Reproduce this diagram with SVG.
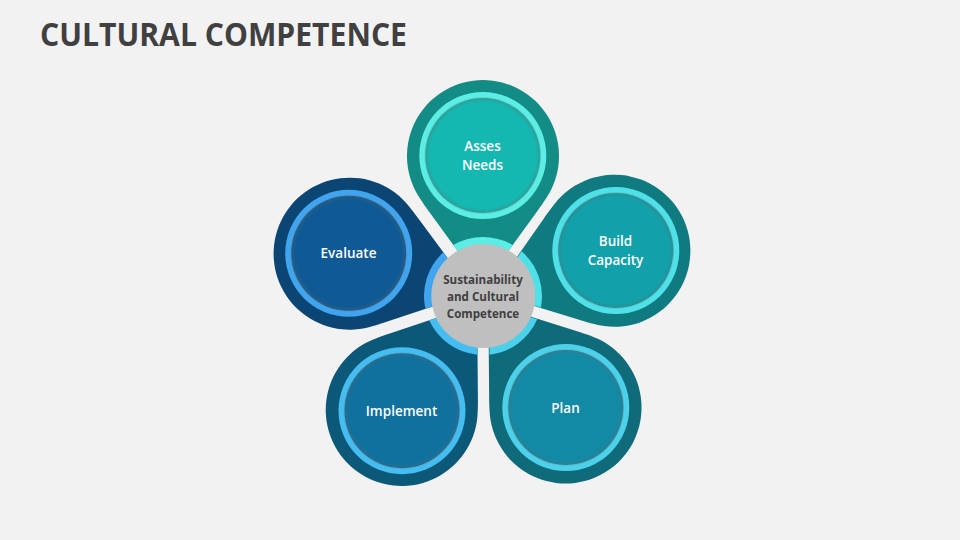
<svg xmlns="http://www.w3.org/2000/svg" width="960" height="540" viewBox="0 0 960 540">
<style>
.title{font:700 33px "Open Sans",sans-serif;fill:#404040}
.lbl{font:600 13.5px "Open Sans",sans-serif;fill:#fff;text-anchor:middle}
.ctr{font:700 11.6px "Open Sans",sans-serif;fill:#404040;text-anchor:middle}
</style>
<defs>
<path id="petal" d="M0,-10.2 L-52.77,-82.8 C-57.5,-89.3 -64.4,-98.8 -68,-106 A76 76 0 1 1 68,-106 C64.4,-98.8 57.5,-89.3 52.77,-82.8 Z"/>
<path id="seg" d="M0,-10.2 L-29.67,-51 A59 59 0 0 1 29.67,-51 Z"/>
<radialGradient id="sh"><stop offset="0.9" stop-color="#666" stop-opacity="0"/><stop offset="0.97" stop-color="#666" stop-opacity="0.28"/><stop offset="1" stop-color="#666" stop-opacity="0"/></radialGradient>
</defs>
<rect width="960" height="540" fill="#f2f2f2"/>
<text class="title" x="40" y="45.5" textLength="367" lengthAdjust="spacingAndGlyphs">CULTURAL COMPETENCE</text>
<g id="node-asses">
<use href="#petal" transform="translate(483,296)" fill="#128c85"/>
<use href="#seg" transform="translate(483,296)" fill="#5cede5"/>
<circle cx="482.8" cy="155.5" r="63.5" fill="#5cede5"/><circle cx="482.8" cy="155.5" r="57.5" fill="#14b8b0"/><circle cx="482.8" cy="155.5" r="59" fill="url(#sh)"/>
<text class="lbl" x="482.5" y="151">Asses</text><text class="lbl" x="482.5" y="170">Needs</text>
</g>
<g id="node-build">
<use href="#petal" transform="translate(483,296) rotate(71) translate(0,1)" fill="#0f7a80"/>
<use href="#seg" transform="translate(483,296) rotate(71)" fill="#4fe0e8"/>
<circle cx="615.8" cy="250.5" r="63.5" fill="#4fe0e8"/><circle cx="615.8" cy="250.5" r="57.5" fill="#12a0aa"/><circle cx="615.8" cy="250.5" r="59" fill="url(#sh)"/>
<text class="lbl" x="615.5" y="246">Build</text><text class="lbl" x="615.5" y="265">Capacity</text>
</g>
<g id="node-plan">
<use href="#petal" transform="translate(483,296) rotate(143.5) translate(0,1.2)" fill="#0f6a7a"/>
<use href="#seg" transform="translate(483,296) rotate(143.5)" fill="#4dd0ea"/>
<circle cx="565.8" cy="407.5" r="63.5" fill="#4dd0ea"/><circle cx="565.8" cy="407.5" r="57.5" fill="#138aa5"/><circle cx="565.8" cy="407.5" r="59" fill="url(#sh)"/>
<text class="lbl" x="565.5" y="413">Plan</text>
</g>
<g id="node-implement">
<use href="#petal" transform="translate(483,296) rotate(215.5)" fill="#0c5878"/>
<use href="#seg" transform="translate(483,296) rotate(215.5)" fill="#45bdf0"/>
<circle cx="402" cy="410.7" r="63.5" fill="#45bdf0"/><circle cx="402" cy="410.7" r="57.5" fill="#10709e"/><circle cx="402" cy="410.7" r="59" fill="url(#sh)"/>
<text class="lbl" x="401.5" y="416">Implement</text>
</g>
<g id="node-evaluate">
<use href="#petal" transform="translate(483,296) rotate(287.6)" fill="#0a4573"/>
<use href="#seg" transform="translate(483,296) rotate(287.6)" fill="#40a5ee"/>
<circle cx="348.7" cy="253.3" r="63.5" fill="#40a5ee"/><circle cx="348.7" cy="253.3" r="57.5" fill="#0f5a94"/><circle cx="348.7" cy="253.3" r="59" fill="url(#sh)"/>
<text class="lbl" x="348.5" y="258">Evaluate</text>
</g>
<g id="node-center">
<circle cx="483.3" cy="296" r="52" fill="#bfbfbf"/>
<text class="ctr" x="483" y="284">Sustainability</text><text class="ctr" x="483" y="301">and Cultural</text><text class="ctr" x="483" y="318">Competence</text>
</g>
<g id="connectors"/>
</svg>
